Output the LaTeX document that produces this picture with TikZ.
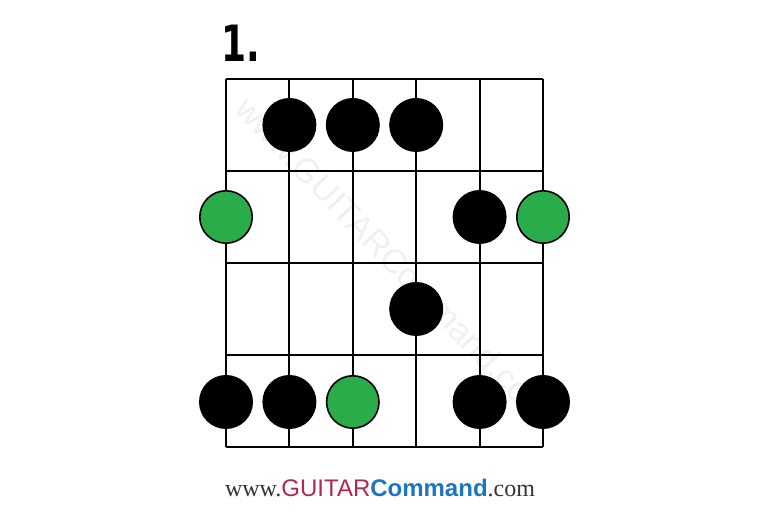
\documentclass[tikz,border=0pt]{standalone}
\usepackage{fontspec}
\usepackage{graphicx}
\setmainfont{Liberation Serif}
\setsansfont{Liberation Sans}
\newfontfamily\titlefont{DejaVu Sans}
\usetikzlibrary{positioning}
\definecolor{notegreen}{HTML}{2BAC4A}
\definecolor{gcred}{HTML}{B3264F}
\definecolor{gcblue}{HTML}{1B75BF}
\tikzset{
  fret/.style={line width=1pt, black},
  dot/.style={circle, fill=black, minimum size=27pt, inner sep=0pt},
  root/.style={dot, fill=notegreen, draw=black, line width=0.8pt, minimum size=26.2pt},
}
\begin{document}
\begin{tikzpicture}[x=0.5pt,y=-0.5pt]
	\useasboundingbox (0,0) rectangle (768,512);

	% marca de agua
	\node[rotate=-46, text=black!6, font=\sffamily\fontsize{17}{17}\selectfont] (wm) at (394,260) {www.GUITARCommand.com};

	% cuerdas
	\foreach \i/\x in {1/226,2/289.4,3/352.8,4/416.2,5/479.6,6/543}
		\draw[fret] (\x,79) -- (\x,447);
	% trastes
	\foreach \y in {79,171,263,355,447}
		\draw[fret] (226,\y) -- (543,\y);

	% titulo
	\node[anchor=base west, inner sep=0pt, font=\titlefont\bfseries\fontsize{25}{25}\selectfont] (title) at (221,62) {\scalebox{0.72}[1]{1.}};

	% traste 1
	\node[dot] (d12) at (289.4,125) {};
	\node[dot] (d13) at (352.8,125) {};
	\node[dot] (d14) at (416.2,125) {};
	% traste 2
	\node[root] (d21) at (226,217) {};
	\node[dot] (d25) at (479.6,217) {};
	\node[root] (d26) at (543,217) {};
	% traste 3
	\node[dot] (d34) at (416.2,309) {};
	% traste 4
	\node[dot] (d41) at (226,402) {};
	\node[dot] (d42) at (289.4,402) {};
	\node[root] (d43) at (352.8,402) {};
	\node[dot] (d45) at (479.6,402) {};
	\node[dot] (d46) at (543,402) {};

	% pie
	\node[anchor=base, inner sep=0pt, font=\fontsize{12}{12}\selectfont] (web) at (380,497)
		{\textcolor{black!80}{www.}{\sffamily\textcolor{gcred}{GUITAR}\textcolor{gcblue}{\bfseries Command}}\textcolor{black!80}{.com}};
\end{tikzpicture}
\end{document}
